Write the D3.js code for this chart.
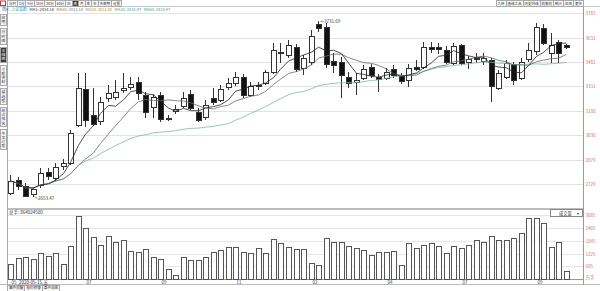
<!DOCTYPE html>
<html>
<head>
<meta charset="utf-8">
<script src="https://cdn.jsdelivr.net/npm/d3@7"></script>
<style>
  body { margin: 0; background: #fff; }
  svg { display: block; font-family: "Noto Sans CJK SC", "Noto Sans", sans-serif; }
</style>
</head>
<body>
<svg id="chart" width="600" height="291"></svg>
<script>
// weekly bars
const opens = [2676, 2756, 2719, 2670, 2725, 2805, 2768, 2842, 2861, 3094, 3316, 3156, 3119, 3260, 3266, 3310, 3328, 3359, 3279, 3205,
  3279, 3137, 3180, 3211, 3285, 3174, 3143, 3260, 3248, 3328, 3353, 3389, 3279, 3334, 3353, 3420, 3543, 3525, 3574, 3445,
  3482, 3715, 3697, 3488, 3482, 3389, 3359, 3383, 3451, 3389, 3383, 3439, 3396, 3371, 3451, 3451, 3574, 3574, 3555, 3475,
  3586, 3482, 3506, 3488, 3494, 3322, 3389, 3469, 3383, 3500, 3549, 3691, 3537, 3605, 3586]
const highs = [2787, 2774, 2737, 2713, 2830, 2830, 2861, 2885, 3064, 3414, 3414, 3322, 3266, 3340, 3371, 3414, 3389, 3389, 3297, 3285,
  3297, 3156, 3217, 3297, 3310, 3199, 3248, 3322, 3340, 3383, 3420, 3408, 3359, 3359, 3433, 3599, 3599, 3617, 3592, 3525,
  3678, 3731.69, 3722, 3537, 3512, 3420, 3414, 3463, 3469, 3408, 3445, 3463, 3414, 3469, 3494, 3605, 3605, 3599, 3580, 3599,
  3592, 3519, 3537, 3537, 3506, 3433, 3494, 3482, 3506, 3599, 3722, 3715, 3660, 3617, 3592]
const lows = [2665, 2695, 2656, 2653.47, 2707, 2756, 2750, 2818, 2848, 3082, 3082, 3088, 3094, 3236, 3248, 3291, 3310, 3248, 3137, 3137,
  3113, 3119, 3162, 3199, 3187, 3113, 3125, 3217, 3236, 3310, 3334, 3260, 3266, 3310, 3340, 3408, 3475, 3506, 3420, 3402,
  3463, 3666, 3445, 3414, 3260, 3322, 3279, 3371, 3383, 3297, 3371, 3383, 3346, 3328, 3426, 3439, 3537, 3531, 3469, 3463,
  3463, 3439, 3475, 3463, 3236, 3310, 3377, 3340, 3371, 3482, 3525, 3586, 3475, 3475, 3562]
const closes = [2750, 2719, 2658, 2701, 2799, 2781, 2836, 2861, 3045, 3322, 3125, 3100, 3236, 3291, 3297, 3322, 3346, 3291, 3174, 3266,
  3131, 3131, 3193, 3260, 3199, 3125, 3217, 3236, 3316, 3353, 3389, 3279, 3334, 3340, 3420, 3555, 3537, 3586, 3439, 3506,
  3642, 3691, 3469, 3463, 3402, 3353, 3371, 3439, 3402, 3377, 3420, 3402, 3365, 3445, 3439, 3574, 3562, 3562, 3482, 3580,
  3475, 3500, 3500, 3506, 3334, 3414, 3475, 3371, 3482, 3555, 3697, 3599, 3586, 3537, 3574]
const volumes = [723, 1012, 1060, 964, 1253, 1109, 1253, 723, 1591, 3060, 2458, 2024, 1639, 2073, 1783, 1880, 1350, 1301, 1446, 1060,
  964, 482, 193, 1060, 916, 916, 1060, 1301, 1398, 1542, 1542, 1301, 1253, 1494, 1253, 1928, 1735, 1542, 1446, 1446,
  771, 675, 1976, 1783, 1783, 1591, 1494, 1398, 1157, 1301, 1301, 1350, 675, 1735, 1494, 1639, 1735, 1591, 1253, 1591,
  1494, 1639, 1880, 1783, 2073, 1880, 1880, 1976, 2217, 2940, 2940, 2699, 1542, 1783, 386]

const priceTicks = [3783, 3632, 3482, 3331, 3180, 3030, 2879, 2729]
const volTicks = [3085, 2465, 1845, 1225, 605]
const monthLabels = ['05', '07', '09', '11', '02', '04', '07', '09']
const monthBars = [0, 10, 20, 30, 40, 50, 60, 70]

const periodTabs = ['分时', '1分', '5分', '15分', '30分', '60分', '日', '周', '月', '季', '年', '多周期', '设置']
const toolTabs = ['九转', '画线工具', '历史均线', '前复权', '统计', '区间', '更多']
const sideTabs = ['应用', '分时图', 'K线图', '个股资料', '自选股', '综合排名', '牛叉诊股']
const bottomTabs = ['事件提醒', '股价预警', '盘中动态']
const legendParts = ['周K', '上证指数', 'MA5: 2854.16', 'MA10: 2823.18', 'MA20: 2823.08', 'MA30: 2818.97', 'MA60: 2818.97']
const legendColors = ['#2f6fb8', '#2f9bb8', '#333', '#777', '#b88a2f', '#3f9f86', '#3f9f86']

const svg = d3.select('#chart')
const left = 7, right = 583

const x = d3.scaleBand().domain(d3.range(closes.length))
  .range([6.25, 569.75]).paddingInner(0.24).paddingOuter(0.12)
const cx = i => Math.round(x(i) + x.bandwidth() / 2) + 0.5
const y = d3.scaleLinear().domain([2583.8, 3783]).range([208, 13])
const yVol = d3.scaleLinear().domain([0, 3085]).range([279, 215])
const px = v => Math.round(v) + 0.5

function movingAvg(vals, n) {
  return vals.map((v, i) => d3.mean(vals.slice(Math.max(0, i - n + 1), i + 1)))
}

// GRID AND FRAME
function drawFrame() {
  let g = svg.append('g').attr('shape-rendering', 'crispEdges')
  g.selectAll('.pg').data(priceTicks).join('line')
    .attr('x1', left).attr('x2', right)
    .attr('y1', d => px(y(d))).attr('y2', d => px(y(d)))
    .attr('stroke', '#e3e3e3')
  g.selectAll('.vg').data(volTicks).join('line')
    .attr('x1', left).attr('x2', right)
    .attr('y1', d => px(yVol(d))).attr('y2', d => px(yVol(d)))
    .attr('stroke', '#e6e6e6')
  g.append('line').attr('x1', 0).attr('x2', 600).attr('y1', 6.5).attr('y2', 6.5).attr('stroke', '#c8c8c8')
  g.append('line').attr('x1', left).attr('x2', right).attr('y1', 208.5).attr('y2', 208.5)
    .attr('stroke', '#bdbdbd').attr('stroke-width', 2)
  g.append('line').attr('x1', left).attr('x2', right).attr('y1', 279.5).attr('y2', 279.5).attr('stroke', '#999')
  g.append('line').attr('x1', 0).attr('x2', 600).attr('y1', 284.5).attr('y2', 284.5).attr('stroke', '#bbb')
  g.append('line').attr('x1', left + 0.5).attr('x2', left + 0.5).attr('y1', 7).attr('y2', 285).attr('stroke', '#aaa')
  g.append('line').attr('x1', right + 0.5).attr('x2', right + 0.5).attr('y1', 0).attr('y2', 285).attr('stroke', '#999')
}

function drawAxes() {
  svg.append('g')
    .attr('transform', `translate(${right},0)`)
    .call(d3.axisRight(y).tickValues(priceTicks).tickSize(0).tickPadding(2.5).tickFormat(d3.format('d')))
    .call(g => g.select('.domain').remove())
    .attr('font-size', 4.5).attr('font-family', null)
    .selectAll('text').attr('fill', '#d26a6a')

  svg.append('g')
    .attr('transform', `translate(${right},0)`)
    .call(d3.axisRight(yVol).tickValues(volTicks).tickSize(0).tickPadding(2.5).tickFormat(d3.format('d')))
    .call(g => g.select('.domain').remove())
    .attr('font-size', 4.5).attr('font-family', null)
    .selectAll('text').attr('fill', '#d26a6a')

  svg.append('text').attr('x', right + 2.5).attr('y', 279).attr('font-size', 4.5)
    .attr('fill', '#d26a6a').text('万手')

  svg.append('g').selectAll('text').data(monthBars).join('text')
    .attr('x', d => cx(d) + 1).attr('y', 283.5)
    .attr('font-size', 4.5).attr('fill', '#444')
    .text((d, i) => monthLabels[i])
  svg.append('text').attr('x', 19).attr('y', 283.5).attr('font-size', 4.5).attr('fill', '#222')
    .text('2020-05-15,五')
}

// PRICE PANE
function drawCandles() {
  let bw = Math.round(x.bandwidth()) - 1
  let g = svg.append('g').attr('shape-rendering', 'crispEdges')
  g.selectAll('.wick').data(closes).join('line')
    .attr('x1', (d, i) => cx(i)).attr('x2', (d, i) => cx(i))
    .attr('y1', (d, i) => Math.round(y(highs[i])))
    .attr('y2', (d, i) => Math.round(y(lows[i])))
    .attr('stroke', '#333')
  g.selectAll('.body').data(closes).join('rect')
    .attr('x', (d, i) => cx(i) - bw / 2)
    .attr('y', (d, i) => px(y(Math.max(opens[i], d))))
    .attr('width', bw)
    .attr('height', (d, i) => Math.max(1, Math.round(Math.abs(y(opens[i]) - y(d)))))
    .attr('fill', (d, i) => d >= opens[i] ? '#fff' : '#111')
    .attr('stroke', '#333')
}

function drawAverages() {
  let avgs = [
    { vals: movingAvg(closes, 30), color: '#74bca4' },
    { vals: movingAvg(closes, 10), color: '#6a6a6a' },
    { vals: movingAvg(closes, 5), color: '#222' }
  ]
  let plotLine = d3.line().x((d, i) => cx(i)).y(d => y(d))
  svg.append('g').selectAll('path').data(avgs).join('path')
    .attr('d', d => plotLine(d.vals))
    .attr('fill', 'none')
    .attr('stroke', d => d.color)
    .attr('stroke-width', 0.8)
}

function drawMarks() {
  let hi = d3.maxIndex(highs), lo = d3.minIndex(lows)
  let g = svg.append('g').attr('font-size', 4.5).attr('fill', '#333')
  g.append('line').attr('x1', cx(hi) + 2).attr('x2', cx(hi) + 5)
    .attr('y1', y(highs[hi])).attr('y2', y(highs[hi])).attr('stroke', '#333').attr('stroke-width', 0.6)
  g.append('text').attr('x', cx(hi) + 5.5).attr('y', y(highs[hi]) + 1.5).text(highs[hi].toFixed(2))
  g.append('line').attr('x1', cx(lo) + 1).attr('x2', cx(lo) + 4)
    .attr('y1', y(lows[lo])).attr('y2', y(lows[lo]) + 2).attr('stroke', '#333').attr('stroke-width', 0.6)
  g.append('text').attr('x', cx(lo) + 4.5).attr('y', y(lows[lo]) + 3.8).text(lows[lo].toFixed(2))
}

// VOLUME PANE
function drawVolume() {
  let bw = Math.round(x.bandwidth()) - 1
  svg.append('g').attr('shape-rendering', 'crispEdges')
    .selectAll('rect').data(volumes).join('rect')
    .attr('x', (d, i) => cx(i) - bw / 2)
    .attr('y', d => px(yVol(d)))
    .attr('width', bw)
    .attr('height', d => 279 - px(yVol(d)))
    .attr('fill', '#fff')
    .attr('stroke', '#555')

  svg.append('text').attr('x', 9).attr('y', 214).attr('font-size', 4.5).attr('fill', '#333')
    .text('总手: 864024500')
  let box = svg.append('g').attr('shape-rendering', 'crispEdges')
  box.append('rect').attr('x', 550.5).attr('y', 209.5).attr('width', 32).attr('height', 6.5)
    .attr('fill', '#fff').attr('stroke', '#888')
  svg.append('text').attr('x', 559).attr('y', 214.5).attr('font-size', 4.2).attr('fill', '#333').text('成交量')
  svg.append('text').attr('x', 577).attr('y', 214.5).attr('font-size', 4).attr('fill', '#333').text('▾')
}

// SOFTWARE CHROME
function drawTabRow(labels, x0, y0, h, fontSize, selected, alignRight) {
  let g = svg.append('g')
  let items = labels.map(t => {
    let txt = g.append('text').attr('font-size', fontSize).text(t)
    return { t, txt, w: txt.node().getComputedTextLength() + 3 }
  })
  let total = d3.sum(items, d => d.w)
  let pos = alignRight ? x0 - total : x0
  items.forEach(d => {
    g.insert('rect', 'text').attr('x', pos + 0.5).attr('y', y0 + 0.5)
      .attr('width', d.w).attr('height', h)
      .attr('fill', d.t === selected ? '#3a3a3a' : '#f7f7f7')
      .attr('stroke', '#aaa').attr('shape-rendering', 'crispEdges')
    d.txt.attr('x', pos + 2).attr('y', y0 + h - 1.2)
      .attr('fill', d.t === selected ? '#fff' : '#333')
    pos += d.w
  })
}

function drawSidebar() {
  let g = svg.append('g')
  let pos = 14
  sideTabs.forEach(t => {
    let chars = Array.from(t)
    let h = chars.length * 4.2 + 3
    let sel = t === 'K线图'
    g.append('rect').attr('x', 0.5).attr('y', pos).attr('width', 6).attr('height', h)
      .attr('fill', sel ? '#3a3a3a' : '#f4f4f4').attr('stroke', '#aaa').attr('shape-rendering', 'crispEdges')
    g.selectAll(null).data(chars).join('text')
      .attr('x', 3.5).attr('y', (c, k) => pos + 5 + k * 4.2)
      .attr('text-anchor', 'middle').attr('font-size', 3.8)
      .attr('fill', sel ? '#fff' : '#333')
      .text(c => c)
    pos += h + 3
  })
  g.append('rect').attr('x', 0.5).attr('y', 1).attr('width', 5).attr('height', 4.5)
    .attr('fill', '#fff').attr('stroke', '#c33')
}

function drawLegend() {
  let t = svg.append('text').attr('x', 2).attr('y', 11.3).attr('font-size', 4)
  t.selectAll('tspan').data(legendParts).join('tspan')
    .attr('dx', (d, i) => i ? 2.5 : 0)
    .attr('fill', (d, i) => legendColors[i])
    .text(d => d)
}

drawFrame()
drawVolume()
drawCandles()
drawAverages()
drawMarks()
drawAxes()
drawTabRow(periodTabs, 7, 0, 6, 3.5, '周', false)
drawTabRow(toolTabs, right, 0, 6, 3.5, null, true)
drawTabRow(bottomTabs, 7, 285, 5.5, 3.6, null, false)
drawSidebar()
drawLegend()
</script>
</body>
</html>
